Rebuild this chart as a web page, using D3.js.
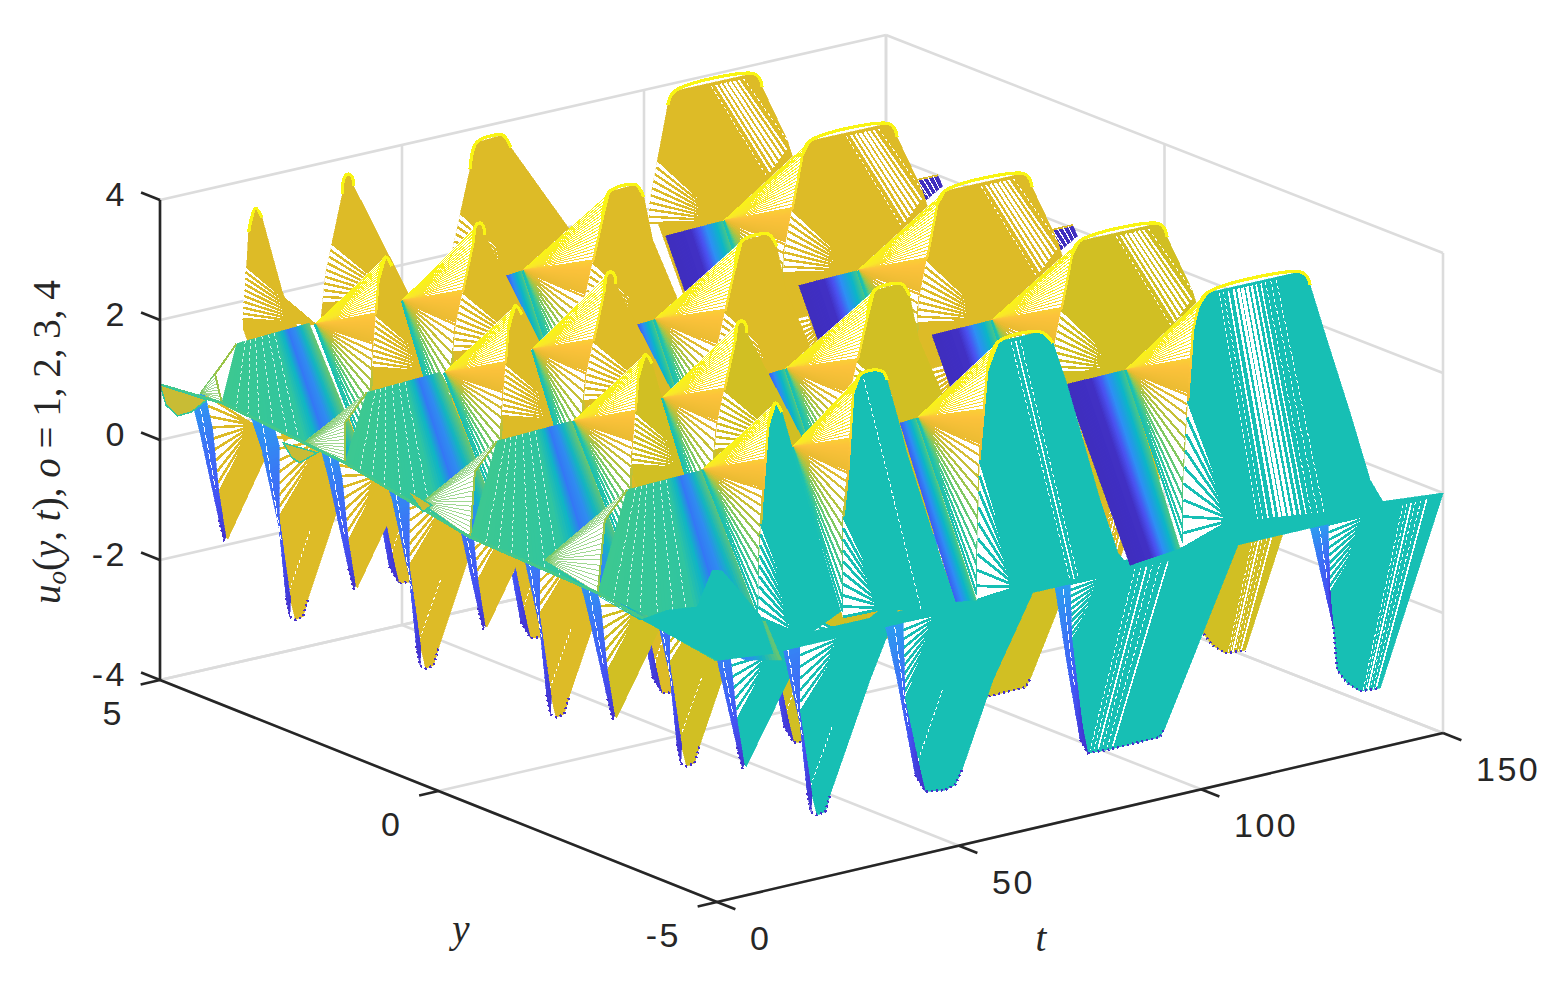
<!DOCTYPE html>
<html>
<head>
<meta charset="utf-8">
<script src="https://cdn.jsdelivr.net/npm/d3@7"></script>
<style>
    html, body { margin: 0; background: #fff; }
    svg { display: block; }
    text { fill: #262626; font-family: "Liberation Sans", Arial, sans-serif; }
    .tick { font-size: 34px; letter-spacing: 2.5px; }
    .math { font-family: "Liberation Serif", serif; font-size: 39px; }
    .marks path { shape-rendering: crispEdges; }
</style>
</head>
<body>
<script>
// axis ticks
let tTicks = [0, 50, 100, 150];
let yTicks = [-5, 0, 5];
let zTicks = [-4, -2, 0, 2, 4];

// the surface repeats along y, one row per period
let rowY = [5, 2.625, 0.25, -2.125, -4.5];
let rowLift = [-0.2, -0.15, -0.1, -0.05, 0];
let rowColor = ["#ddbb27", "#ddbb27", "#ddbb27", "#d1bf23", "#17bfb4"];

// pulses, [t, z] as read on the front row
let humpBody = [
    [[17.8, 3.8], [19.2, 3.62], [23.6, 2.29], [31.2, 0.76], [31.8, 0.09], [24, -0.22], [15.1, 1.85], [16.3, 3.43]],
    [[35.3, 3.94], [38, 3.97], [40.1, 3.9], [40.9, 3.75], [43.2, 3.04], [45, 2.45], [51.9, 0.59], [55, -0.21], [47.1, -0.25], [40.9, -0.05], [31.8, 1.54], [32.9, 2.4], [33.9, 3.66]],
    [[63.8, 3.95], [72.5, 3.96], [74.2, 3.84], [75.2, 3.72], [78.1, 2.97], [84.9, 0.92], [88.6, -0.03], [90.7, -0.27], [75, -0.31], [68, -0.21], [59.5, 0.35], [60.1, 2.17], [61.6, 3.53]],
    [[107, 3.96], [126.2, 3.95], [127.7, 3.84], [128.3, 3.69], [131.8, 2.71], [136.6, 1.4], [140.7, 0.21], [143.8, -0.27], [122.1, -0.33], [102.1, -0.2], [112.2, 0.08], [103.1, 2.25], [104.1, 3.39], [105.2, 3.76]]
];
// the second pulse runs straight down on the rows behind the front one, the third on the last row
let humpBodyBack = [[35.3, 3.94], [38, 3.97], [40.1, 3.9], [40.9, 3.75], [57.6, 0.57], [61.2, -0.13], [47.1, -0.25], [40.9, -0.05], [31.8, 1.54], [32.9, 2.4], [33.9, 3.66]];
let humpBodyLast = [[63.8, 3.95], [72.5, 3.96], [74.2, 3.84], [75.2, 3.72], [92.1, 1.29], [98, -0.2], [75, -0.31], [68, -0.21], [59.5, 0.35], [60.1, 2.17], [61.6, 3.53]];
let humpRail = [
    [[17.8, 3.8], [16.3, 3.43], [15.1, 2.18], [14.5, 1.3], [14.3, 0.3]],
    [[35.3, 3.94], [33.9, 3.66], [32.9, 2.4], [31.8, 1.54], [31.8, -0.03]],
    [[63.8, 3.95], [61.6, 3.53], [60.1, 2.17], [59.5, 0.35], [59.5, -0.27]],
    [[107, 3.96], [105.2, 3.76], [104.1, 3.39], [103.1, 2.25], [102.1, 0.88], [102.1, -0.2]]
];
let humpCrest = [
    [[16.3, 3.43], [17.8, 3.8], [19.2, 3.62]],
    [[33.9, 3.66], [35.3, 3.94], [38, 3.97], [40.1, 3.9], [40.9, 3.75]],
    [[61.6, 3.53], [63.8, 3.95], [72.5, 3.96], [74.2, 3.84], [75.2, 3.72]],
    [[105.2, 3.76], [107, 3.96], [126.2, 3.95], [127.7, 3.84], [128.3, 3.69]]
];
// crests are narrower on the back rows
let crestMiddle = [18, 38, 69, 117];
let crestNarrow = [1, 0.35, 0.65, 0.85];
let fanApex = [[2.7, 2.97], [21.3, 3], [47.1, 3], [90.1, 2.99]];
let frontApex = [[24, -0.22], [40.9, -0.05], [68, -0.21], [112.2, 0.08]];
let frontWedgeFrom = [0.56, 0.58, 0.45, 0.42];
let frontEdge = [[17.4, -0.36], [142.8, -0.36], [155.8, -0.29], [143.8, -0.2], [24, -0.15], [14.3, 0.25]];

// white gaps running down the pulses
let slitTop = [null, [[35.5, 3.85], [37.5, 3.85]], [[65.3, 3.9], [71.5, 3.9]], [[108.2, 3.92], [124.2, 3.9]]];
let slitBottom = [null, [[47, -0.2], [50, -0.2]], [[77.7, -0.33], [82.9, -0.21]], [[115.9, 0.01], [134.5, -0.18]]];
let slitSpots = [[], [0.3], [0.2, 0.35, 0.5], [0.08, 0.14, 0.2, 0.27, 0.33, 0.38, 0.44, 0.5, 0.56, 0.62, 0.68, 0.75, 0.82]];
let slitWeight = [[], [1], [1, 1.4, 1], [1, 1, 1.6, 2.4, 3, 3.6, 3.2, 2.6, 1.8, 1.4, 1, 1, 1]];
let backSlitTop = [[115.5, 3.9], [124.5, 3.9]];
let backSlitBottom = [[127.3, 2.16], [132.9, 2.66]];
let backSlitSpots = [0.05, 0.18, 0.3, 0.42, 0.54, 0.66, 0.78, 0.92];
let backSlitWeight = [1, 2, 2.6, 3, 3, 2.6, 2, 1];

// dark bands between the pulses
let panelTop = [[[43.6, 2.98], [47.1, 3]], [[77.7, 2.98], [90.1, 2.99]]];
let panelBottom = [[[55, -0.21], [59.7, -0.27]], [[91.1, -0.28], [101.4, -0.19]]];
let panelStops = [[0, 0.3, 0.6, 0.85, 1], [0, 0.42, 0.55, 0.68, 0.86, 1]];
let panelColors = [
    ["#3d5df2", "#2f8cf5", "#0bb5c8", "#30c49a", "#7cc86a"],
    ["#3f2ebe", "#4130c4", "#4a50f0", "#2e8ef5", "#0bb5c8", "#50c880"]
];
let backPanel = [[129, 2.9], [135, 2.9], [136, 2.7], [132, 2.5]];
let backPanelRows = [1, 2];

// first band, on a plane 3 further along y, and what it meets on the t = 0 edge
let firstCrest = [[21.7, 1.17], [37.2, 1.21]];
let firstMid = [17.1, 0.75];
let firstFoot = [55.4, -2.63];
let firstStops = [0, 0.52, 0.62, 0.7, 0.78, 0.87, 1];
let firstColors = ["#3cc891", "#30c5a0", "#10b4c6", "#3478f5", "#2f8cf0", "#12b6c0", "#70c868"];
let edgeRailY = [3.89, 1.68, -0.57, -2.86, -5];
let edgeRailZ = [1.03, 0.85, 0.44, 0.36, 0.03];
let edgeApexY = [4.28, 2.43, 0.3, -1.91];
let edgeApexZ = [1.05, 0.9, 0.7, 0.56];
let edgeLobes = [
    [[5, 0.92], [4.89, 0.62], [4.68, 0.52], [4.43, 0.68], [4.16, 0.98]],
    [[2.79, 0.77], [2.63, 0.58], [2.49, 0.55], [2.18, 0.83]],
    [[0.57, 0.81], [0.28, 0.55], [0.12, 0.72]]
];
let edgeLineY = [5, 3.89, 1.68, -0.57, -2.86, -5];
let edgeLineZ = [0.92, 1.03, 0.85, 0.44, 0.36, 0.03];
let frontPatch = [[16.1, -0.51], [24.4, -1.05], [30, -0.99], [36.2, -1.05], [39.3, -0.5], [41.3, -0.54], [49.2, -1.43], [51.9, -2.12], [40.3, -2.02]];

// troughs
let dipOuter = [
    [[3.9, 0.36], [5.8, -0.26], [9.9, -1.79], [11, -2.15]],
    [[16.7, 0.37], [19.2, -0.26], [22.9, -1.63], [24.4, -2.82], [25.2, -3.16]],
    [[40.5, -0.33], [43, -1.29], [46.7, -2.94], [48.8, -3.26]],
    [[75.6, -0.35], [78.3, -1.79], [80.8, -3], [82.4, -3.25]],
    [[128.3, -0.34], [133.1, -2.1]]
];
let dipInner = [
    [[6.8, 0.39], [8.5, -0.24], [9.9, -1.34], [11.4, -2.11]],
    [[20.9, 0.33], [22.9, -0.25], [22.9, -1.46], [25.4, -2.88]],
    [[44.2, -0.31], [44.6, -1.65], [47.7, -2.88]],
    [[78.7, -0.34], [79.1, -1.3], [81.2, -2.76]],
    [[132, -0.35], [132.4, -1.52]]
];
let dipApex = [[17.4, -0.36], [32.9, -0.35], [52.9, -0.36], [88.4, -0.36], [142.8, -0.36]];
let dipBody = [
    [[9.9, -1.34], [17.4, -0.36], [30.2, 0.28], [20.5, -0.87], [11.8, -2.15], [11.4, -2.11]],
    [[22.9, -1.46], [32.9, -0.35], [44.6, 0.18], [37.4, -1.18], [29.1, -2.95], [28.1, -3.21], [26.4, -3.23], [25.4, -2.88]],
    [[44.6, -1.65], [52.9, -0.36], [73.6, 0.05], [62.8, -1.66], [56.4, -3.04], [55, -3.26], [52.9, -3.31], [48.8, -3.26], [47.7, -2.88]],
    [[79.1, -1.3], [88.4, -0.36], [113.8, -0.29], [98.3, -3.13], [97.3, -3.26], [86.4, -3.27], [82.4, -3.25], [81.2, -2.76]],
    [[132.4, -1.52], [142.8, -0.36], [143.8, -0.27], [155.8, -0.29], [142.8, -3.3], [138.6, -3.27], [136, -3.09], [133.9, -2.83], [133.1, -2.1]]
];
let dipRim = [
    [[9.9, -1.79], [11, -2.15], [11.8, -2.15]],
    [[24.4, -2.82], [25.2, -3.16], [26.4, -3.23], [28.1, -3.21], [29.1, -2.95]],
    [[46.7, -2.94], [48.8, -3.26], [52.9, -3.31], [55, -3.26], [56.4, -3.04]],
    [[80.8, -3], [82.4, -3.25], [86.4, -3.27], [97.3, -3.26], [98.3, -3.13]],
    [[133.1, -2.1], [133.9, -2.83], [136, -3.09], [138.6, -3.27], [142.8, -3.3]]
];
let dipSlitTop = [null, [[29.5, -1.82], [29.6, -1.82]], [[52.3, -1.63], [52.4, -1.63]], [[91.1, -0.36], [101.4, -0.3]], [[146.9, -0.33], [154.1, -0.33]]];
let dipSlitBottom = [null, [[24.6, -2.81], [24.7, -2.81]], [[47.1, -2.75], [47.2, -2.75]], [[82.2, -3.2], [89, -3.24]], [[139, -3.26], [142.8, -3.3]]];
let dipSlitSpots = [[], [0.5], [0.5], [0.1, 0.22, 0.34, 0.46, 0.62, 0.78], [0.08, 0.2, 0.32, 0.44, 0.6, 0.76]];
// the narrow troughs sit higher further back
let dipRaise = [[0.55, 0.55, 0.7, 0, 0], [0, 0, 0, 0, 0], [0.2, 0.1, 0, 0, 0], [0, 0, 0, 0, 0], [0, 0, 0, -0.2, 0]];

// spacing of mesh lines inside the fans
let fanThin = [0.01, 0.025, 0.04, 0.055, 0.07, 0.085, 0.1, 0.115, 0.13, 0.145, 0.16, 0.175, 0.19, 0.205, 0.22, 0.235, 0.25, 0.265];
let fanThick = [0.41, 0.445, 0.485, 0.53, 0.58, 0.63, 0.69, 0.75, 0.81, 0.87, 0.93, 0.98];
let wedgeSpots = [0.02, 0.13, 0.24, 0.35, 0.46, 0.57, 0.68, 0.79, 0.9, 1];
let fanStops = [0, 0.2, 0.3, 0.42, 0.55, 0.7, 0.85, 1];
let fanColors = ["#f9f514", "#f9e72a", "#fcc23b", "#e9bb31", "#c0c138", "#7cc964", "#35c69b", "#17bfb4"];
let stripColors = ["#2c9cf0", "#3c72f6", "#4452f2", "#4334d0"];

let tX = d3.scaleLinear().domain([0, 150]).range([0, 726]);
let tY = d3.scaleLinear().domain([0, 150]).range([0, -169]);
let yX = d3.scaleLinear().domain([-5, 5]).range([0, -557]);
let yY = d3.scaleLinear().domain([-5, 5]).range([0, -222]);
let zY = d3.scaleLinear().domain([-4, 4]).range([0, -480]);
let fanColor = d3.scaleLinear().domain(fanStops).range(fanColors);
let stripColor = d3.scaleLinear().domain([0, 0.35, 0.7, 1]).range(stripColors);
let firstColor = d3.scaleLinear().domain(firstStops).range(firstColors);

let svg = d3.select("body").append("svg").attr("width", 1557).attr("height", 990);
let lineGen = d3.line();
let crestGen = d3.line().curve(d3.curveCatmullRom);

function project(t, y, z) {
    // the far corner of the box sits a few pixels lower than a flat projection
    let skew = 4 * (t / 150) * ((y + 5) / 10);
    return [717 + tX(t) + yX(y), 902 + tY(t) + yY(y) + zY(z) + skew];
}

// rows sit a little closer together at small t
function rowPoint(r, p, raise, yShift) {
    let squeeze = 0.975 + 0.045 * Math.min(p[0], 110) / 110;
    let y = -4.5 + (rowY[r] + 4.5) * squeeze + (yShift || 0);
    return project(p[0], y, p[1] + rowLift[r] + (raise || 0));
}

function narrowed(r, c, p) {
    if (r === 4 || p[1] < 2.8) return p;
    return [crestMiddle[c] + (p[0] - crestMiddle[c]) * crestNarrow[c], p[1]];
}

function railAt(rail, f) {
    let lengths = [0];
    for (let i = 1; i < rail.length; i++) {
        lengths.push(lengths[i - 1] + Math.hypot(rail[i][0] - rail[i - 1][0], rail[i][1] - rail[i - 1][1]));
    }
    let wanted = Math.min(f, 1) * lengths[lengths.length - 1];
    let i = Math.max(1, d3.bisectLeft(lengths, wanted));
    let k = (wanted - lengths[i - 1]) / ((lengths[i] - lengths[i - 1]) || 1);
    return [rail[i - 1][0] + (rail[i][0] - rail[i - 1][0]) * k, rail[i - 1][1] + (rail[i][1] - rail[i - 1][1]) * k];
}

function shape(g, pts, fill) {
    return g.append("path").attr("d", lineGen(pts) + "Z").attr("fill", fill).attr("stroke", fill).attr("stroke-width", 0.6);
}

function stroke(g, pts, color, width, dash) {
    return g.append("path").attr("d", lineGen(pts)).attr("fill", "none")
        .attr("stroke", color).attr("stroke-width", width).attr("stroke-dasharray", dash || null);
}

function ribbon(g, railA, railB, colorOf) {
    d3.range(0, 1, 0.02).forEach(f => {
        let next = f + 0.022;
        shape(g, [railAt(railA, f), railAt(railA, next), railAt(railB, next), railAt(railB, f)], colorOf(f));
    });
}

function fanMesh(g, apex, rail, from, to, color, width) {
    let ends = wedgeSpots.map(s => railAt(rail, from + (to - from) * s));
    shape(g, [apex].concat(ends), "#fff");
    ends.forEach(e => stroke(g, [apex, e], color, width));
}

function drawSlits(g, a, b, spots, weights) {
    spots.forEach((f, i) => {
        stroke(g, [railAt(a, f), railAt(b, f)], "#fff", weights[i], weights[i] <= 1 ? "3 3" : null);
    });
}

function drawHumpFan(g, r, c) {
    let apex = rowPoint(r, fanApex[c]);
    let rail = humpRail[c].map(p => rowPoint(r, narrowed(r, c, p)));
    let all = d3.range(0, 1.001, 0.05).map(f => railAt(rail, f));
    shape(g, [apex].concat(all), "#fff");
    fanThin.forEach(f => stroke(g, [apex, railAt(rail, f)], fanColor(f), 1));
    d3.range(0.27, 0.4, 0.004).forEach(f => stroke(g, [apex, railAt(rail, f)], fanColor(f), 2));
    fanThick.forEach(f => stroke(g, [apex, railAt(rail, f)], fanColor(f), 2.2));
    d3.range(0, 0.98, 0.02).forEach(f => stroke(g, [railAt(rail, f), railAt(rail, f + 0.02)], fanColor(f), 2.4));
}

function drawDip(g, r, c) {
    let raise = dipRaise[c][r];
    let map = p => rowPoint(r, p, raise);
    let outer = dipOuter[c].map(map), inner = dipInner[c].map(map);
    let wedgeRail = inner.length > 2 ? inner.slice(0, inner.length - 1) : inner;
    fanMesh(g, map(dipApex[c]), wedgeRail, 0, 1, rowColor[r], 2.6);
    shape(g, dipBody[c].map(map), rowColor[r]);
    if (dipSlitTop[c]) {
        drawSlits(g, dipSlitTop[c].map(map), dipSlitBottom[c].map(map), dipSlitSpots[c], dipSlitSpots[c].map((f, i) => i % 3 === 2 ? 1.6 : 1));
    }
    ribbon(g, outer, inner, stripColor);
    let mid = f => {
        let a = railAt(outer, f), b = railAt(inner, f);
        return [(a[0] + b[0]) / 2, (a[1] + b[1]) / 2];
    };
    stroke(g, [mid(0.03), mid(0.65)], "#fff", 1, "6 3");
    stroke(g, dipRim[c].map(map), "#4630cc", 2.5, "2 3");
}

function drawFirstBand(g, r) {
    let clipped = g.append("g").attr("clip-path", "url(#aboveEdge)");
    let top = firstCrest.map(p => rowPoint(r, p, 0, 3));
    let bottom = [project(0, edgeRailY[r - 1], edgeRailZ[r - 1]), rowPoint(r, firstFoot, 0, 3)];
    ribbon(clipped, top, bottom, firstColor);
    [0.08, 0.15, 0.22, 0.31, 0.4, 0.48].forEach(f => {
        stroke(clipped, [railAt(top, f + 0.04), railAt(bottom, f)], "#fff", 0.8, "3 3");
    });
}

function drawFirstWedge(g, r) {
    let apex = project(0, edgeApexY[r - 1], edgeApexZ[r - 1]);
    let rail = [rowPoint(r, firstCrest[0], 0, 3), rowPoint(r, firstMid, 0, 3), project(0, edgeRailY[r - 1], edgeRailZ[r - 1])];
    let ends = d3.range(0, 1.001, 0.05).map(f => railAt(rail, f));
    shape(g, [apex].concat(ends), "#fff");
    ends.forEach(e => stroke(g, [apex, e], "#78c864", 0.7));
    stroke(g, rail, "#9ac448", 2);
}

function drawRow(g, r) {
    dipBody.forEach((d, c) => drawDip(g, r, c));
    if (r === 4) shape(g, frontEdge.map(p => rowPoint(r, p)), rowColor[r]);
    if (r > 0) {
        drawFirstBand(g, r);
        panelTop.forEach((top, i) => {
            let color = d3.scaleLinear().domain(panelStops[i]).range(panelColors[i]);
            ribbon(g, top.map(p => rowPoint(r, p)), panelBottom[i].map(p => rowPoint(r, p)), color);
        });
    }
    humpBody.forEach((body, c) => {
        let outline = body;
        if (c === 1 && r < 4) outline = humpBodyBack;
        if (c === 2 && r === 0) outline = humpBodyLast;
        shape(g, outline.map(p => rowPoint(r, narrowed(r, c, p))), rowColor[r]);
        if (r === 4 && slitTop[c]) {
            drawSlits(g, slitTop[c].map(p => rowPoint(r, p)), slitBottom[c].map(p => rowPoint(r, p)), slitSpots[c], slitWeight[c]);
        }
        if (r < 4 && c === 3) {
            drawSlits(g, backSlitTop.map(p => rowPoint(r, narrowed(r, c, p))), backSlitBottom.map(p => rowPoint(r, p)), backSlitSpots, backSlitWeight);
        }
    });
    humpBody.forEach((body, c) => {
        if (r > 0) drawHumpFan(g, r, c);
        let rail = humpRail[c].map(p => rowPoint(r, narrowed(r, c, p)));
        if (r < 4) {
            fanMesh(g, rowPoint(r + 1, fanApex[c]), rail, 0.27, 0.52, rowColor[r], 2.4);
        } else {
            fanMesh(g, rowPoint(r, frontApex[c]), rail, frontWedgeFrom[c], 1, rowColor[r], 2.8);
        }
        let crest = humpCrest[c].map(p => rowPoint(r, narrowed(r, c, p)));
        g.append("path").attr("d", crestGen(crest)).attr("fill", "none").attr("stroke", "#f9f514").attr("stroke-width", 3.2);
    });
    if (r > 0) drawFirstWedge(g, r);
}

function drawBox() {
    let grid = svg.append("g").attr("stroke", "#dcdcdc").attr("stroke-width", 2.6).attr("fill", "none");
    let seg = (a, b) => grid.append("path").attr("d", lineGen([project(...a), project(...b)]));
    tTicks.forEach(t => {
        seg([t, -5, -4], [t, 5, -4]);
        seg([t, 5, -4], [t, 5, 4]);
    });
    yTicks.forEach(y => {
        seg([0, y, -4], [150, y, -4]);
        seg([150, y, -4], [150, y, 4]);
    });
    zTicks.forEach(z => {
        seg([0, 5, z], [150, 5, z]);
        seg([150, 5, z], [150, -5, z]);
    });
}

function drawAxes() {
    let ax = svg.append("g").attr("stroke", "#262626").attr("stroke-width", 2.6).attr("fill", "none");
    let seg = (a, b) => ax.append("path").attr("d", lineGen([project(...a), project(...b)]));
    seg([0, 5, -4], [0, 5, 4]);
    seg([0, 5, -4], [0, -5, -4]);
    seg([0, -5, -4], [150, -5, -4]);
    zTicks.forEach(z => {
        seg([0, 5, z], [0, 5.34, z]);
        let p = project(0, 5, z);
        svg.append("text").attr("class", "tick").attr("x", p[0] - 33).attr("y", p[1] + 6)
            .attr("text-anchor", "end").text(z);
    });
    tTicks.forEach(t => {
        seg([t, -5, -4], [t, -5.33, -4]);
        let p = project(t, -5, -4);
        svg.append("text").attr("class", "tick").attr("x", p[0] + 33).attr("y", p[1] + 48).text(t);
    });
    yTicks.forEach(y => {
        seg([0, y, -4], [-4, y, -4]);
        let p = project(0, y, -4);
        svg.append("text").attr("class", "tick").attr("x", p[0] - 36).attr("y", p[1] + 45)
            .attr("text-anchor", "end").text(y);
    });
    svg.append("text").attr("class", "math").attr("x", 461).attr("y", 942).attr("text-anchor", "middle")
        .style("font-style", "italic").text("y");
    svg.append("text").attr("class", "math").attr("x", 1041).attr("y", 951).attr("text-anchor", "middle")
        .style("font-style", "italic").text("t");
    let label = svg.append("text").attr("class", "math").attr("transform", "translate(60,604) rotate(-90)");
    label.append("tspan").style("font-style", "italic").text("u");
    label.append("tspan").style("font-style", "italic").style("font-size", "27px").attr("dy", 6).text("o");
    label.append("tspan").attr("dy", -6).text("(");
    label.append("tspan").style("font-style", "italic").text("y");
    label.append("tspan").text(", ");
    label.append("tspan").style("font-style", "italic").text("t");
    label.append("tspan").text("), ");
    label.append("tspan").style("font-style", "italic").text("o");
    label.append("tspan").text(" = 1, 2, 3, 4");
}

drawBox();

let edgePts = edgeLineY.map((y, i) => project(0, y, edgeLineZ[i]));
svg.append("clipPath").attr("id", "aboveEdge").append("path")
    .attr("d", lineGen(edgePts.concat([[1000, 660], [1000, 0], [0, 0], [0, 385]])) + "Z");

let marks = svg.append("g").attr("class", "marks");
backPanelRows.forEach(r => {
    let pts = backPanel.map(p => rowPoint(r, p));
    shape(marks, pts, "#3f2ebe");
    stroke(marks, pts.slice(0, 2), "#d8b82c", 2);
    [0.12, 0.3, 0.48, 0.66, 0.84].forEach(f => {
        stroke(marks, [railAt([pts[0], pts[1]], f), railAt([pts[3], pts[2]], f)], "#fff", 1.2);
    });
});
rowY.forEach((y, r) => drawRow(marks, r));

stroke(marks, edgePts, "#45c88a", 3);
edgeLobes.forEach(lobe => {
    let pts = lobe.map(p => project(0, p[0], p[1]));
    shape(marks, pts, "#c8bc35").attr("stroke", "#35c69a").attr("stroke-width", 1.5);
});
shape(marks, frontPatch.map(p => rowPoint(4, p, 0, 3)), "#17bfb4");
drawAxes();
</script>
</body>
</html>
